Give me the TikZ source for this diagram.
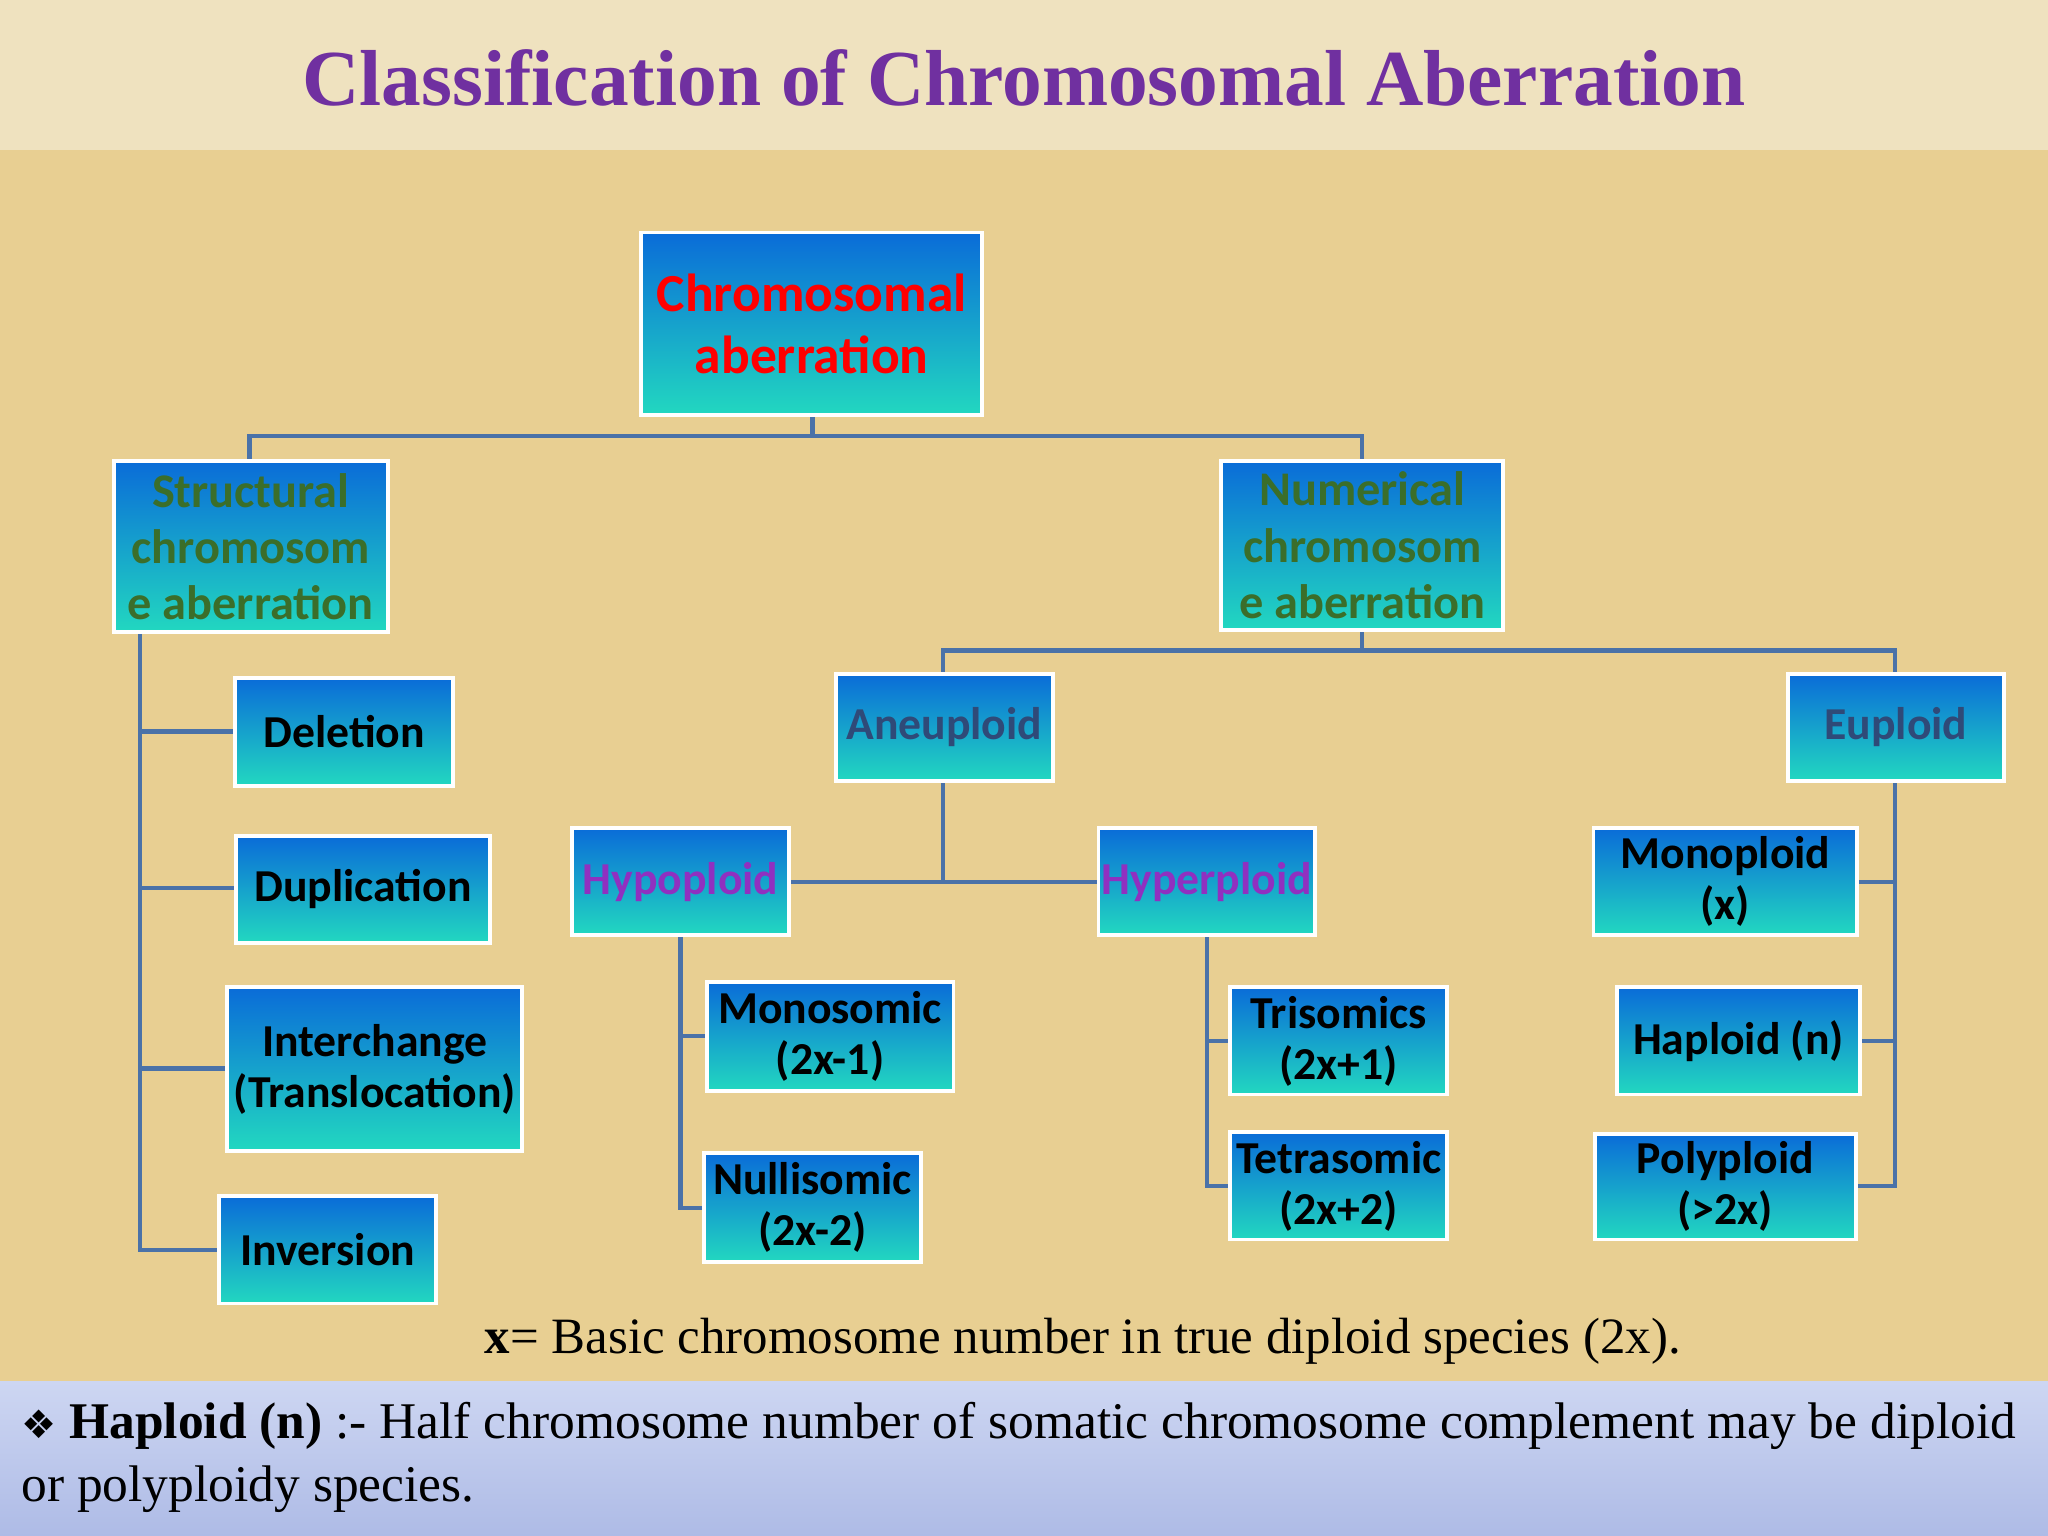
\documentclass[tikz,border=0pt]{standalone}
\usepackage{fontspec}
\setmainfont{Liberation Serif}
\newfontfamily\boxfont{Carlito}
\newfontfamily\symfont{DejaVu Sans}
\definecolor{bg}{HTML}{E8CF92}
\definecolor{titlebg}{HTML}{EFE2BF}
\definecolor{ln}{HTML}{4A72A8}
\definecolor{ttl}{HTML}{7030A0}
\definecolor{grn}{HTML}{3B6E2A}
\definecolor{slate}{HTML}{2F4A78}
\definecolor{purp}{HTML}{9030C0}
\definecolor{boxtop}{HTML}{0A6CD8}
\definecolor{boxbot}{HTML}{22D8C0}
\definecolor{bandtop}{HTML}{CDD6F2}
\definecolor{bandbot}{HTML}{AEBBE6}
\tikzset{
 bx/.style={draw=white,line width=1.5pt,top color=boxtop,bottom color=boxbot,
   align=center,font=\boxfont\bfseries\fontsize{17.5}{19.5}\selectfont,inner sep=0pt},
 ln/.style={draw=ln,line width=1.6pt}
}
\begin{document}
\begin{tikzpicture}[x=0.5pt,y=-0.5pt]
\fill[bg] (0,0) rectangle (1568,1176);
\fill[titlebg] (0,0) rectangle (1568,115);
\shade[top color=bandtop,bottom color=bandbot] (0,1058) rectangle (1568,1176);
\node[font=\bfseries\fontsize{30.4}{36}\selectfont,text=ttl] (title) at (784,60) {Classification of Chromosomal Aberration};
% connectors
\draw[ln] (622,318) -- (622,334) (191,353) -- (191,334) -- (1043,334) -- (1043,353);
\draw[ln] (107,484) -- (107,957) -- (168,957) (107,560) -- (180,560) (107,680) -- (181,680) (107,818) -- (174,818);
\draw[ln] (1043,482) -- (1043,498) (722,516) -- (722,498) -- (1451,498) -- (1451,516);
\draw[ln] (722,598) -- (722,675) (604,675) -- (841,675);
\draw[ln] (521,716) -- (521,925) -- (539,925) (521,793) -- (541,793);
\draw[ln] (924,716) -- (924,908) -- (942,908) (924,797) -- (942,797);
\draw[ln] (1451,598) -- (1451,908) -- (1421,908) (1451,675) -- (1422,675) (1451,797) -- (1424,797);
% boxes
\node[bx,text=red,minimum width=130.5pt,minimum height=70pt,font=\boxfont\bfseries\fontsize{20.5}{23.5}\selectfont] (root) at (621.5,248) {Chromosomal\\aberration};
\node[bx,text=grn,minimum width=105pt,minimum height=65.5pt,font=\boxfont\bfseries\fontsize{18.5}{21.5}\selectfont] (str) at (192,418.5) {Structural\\chromosom\\e aberration};
\node[bx,text=grn,minimum width=108pt,minimum height=64.5pt,font=\boxfont\bfseries\fontsize{18.5}{21.5}\selectfont] (num) at (1043,417.5) {Numerical\\chromosom\\e aberration};
\node[bx,text=black,minimum width=83.5pt,minimum height=41.5pt] (del) at (263.5,560.5) {Deletion};
\node[bx,text=black,minimum width=97pt,minimum height=41pt] (dup) at (278,681) {Duplication};
\node[bx,text=black,minimum width=113pt,minimum height=62.5pt] (int) at (287,818.5) {Interchange\\(Translocation)};
\node[bx,text=black,minimum width=83pt,minimum height=41pt] (inv) at (251,957) {Inversion};
\node[bx,text=slate,minimum width=83pt,minimum height=41pt] (ane) at (723,557) {Aneuploid};
\node[bx,text=slate,minimum width=82.5pt,minimum height=41pt] (eup) at (1451.5,557) {Euploid};
\node[bx,text=purp,minimum width=83pt,minimum height=41pt] (hypo) at (521,675) {Hypoploid};
\node[bx,text=purp,minimum width=83pt,minimum height=41pt] (hyper) at (924,675) {Hyperploid};
\node[bx,text=black,minimum width=94.5pt,minimum height=41.5pt] (mono) at (635.5,793.5) {Monosomic\\(2x-1)};
\node[bx,text=black,minimum width=83pt,minimum height=41.5pt] (null) at (622,924.5) {Nullisomic\\(2x-2)};
\node[bx,text=black,minimum width=83pt,minimum height=41pt] (tri) at (1025,797) {Trisomics\\(2x+1)};
\node[bx,text=black,minimum width=83pt,minimum height=41pt] (tetra) at (1025,908) {Tetrasomic\\(2x+2)};
\node[bx,text=black,minimum width=101pt,minimum height=41pt] (monop) at (1321,675) {Monoploid\\(x)};
\node[bx,text=black,minimum width=93pt,minimum height=41pt] (hap) at (1331,797) {Haploid (n)};
\node[bx,text=black,minimum width=100pt,minimum height=40.5pt] (poly) at (1321,908.5) {Polyploid\\(>2x)};
% notes
\node[font=\fontsize{19.5}{22}\selectfont] (note) at (829,1027) {\textbf{x}= Basic chromosome number in true diploid species (2x).};
\node[anchor=west,align=left,font=\fontsize{19.7}{24}\selectfont,inner sep=0pt] (hapnote) at (16,1116) {{\symfont\fontsize{15}{20}\selectfont ❖} \textbf{Haploid (n)} :- Half chromosome number of somatic chromosome complement may be diploid\\or polyploidy species.};
\end{tikzpicture}
\end{document}
